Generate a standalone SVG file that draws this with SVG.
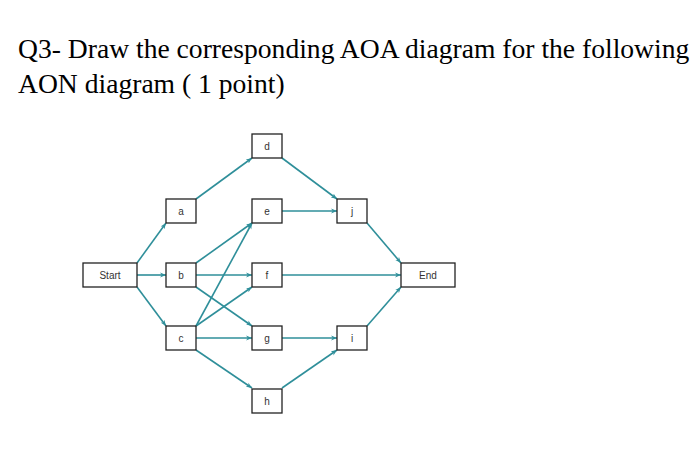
<svg xmlns="http://www.w3.org/2000/svg" width="700" height="461" viewBox="0 0 700 461">
<style>
.t{font-family:"Liberation Serif",serif;font-size:27.6px;fill:#000}
.n rect{fill:#fff;stroke:#222;stroke-width:1.3}
.n text{font-family:"Liberation Sans",sans-serif;font-size:10px;fill:#333;text-anchor:middle}
.c line{stroke:#2f8f9a;stroke-width:1.6;marker-end:url(#ah)}
</style>
<defs><marker id="ah" viewBox="0 0 10 10" refX="10" refY="5" markerWidth="6" markerHeight="6" orient="auto" markerUnits="userSpaceOnUse"><path d="M0,1 L10,5 L0,9 L3,5 Z" fill="#2f8f9a"/></marker></defs>
<rect width="700" height="461" fill="#fff"/>
<text class="t" x="18" y="58">Q3- Draw the corresponding AOA diagram for the following</text>
<text class="t" x="18" y="93">AON diagram ( 1 point)</text>
<g class="c">
<line x1="137" y1="263" x2="166" y2="223"/>
<line x1="137" y1="275" x2="166" y2="275"/>
<line x1="137" y1="287" x2="166" y2="326"/>
<line x1="196" y1="199" x2="252" y2="158"/>
<line x1="282" y1="158" x2="337" y2="199"/>
<line x1="282" y1="211" x2="337" y2="211"/>
<line x1="367" y1="223" x2="401" y2="263"/>
<line x1="196" y1="263" x2="252" y2="223"/>
<line x1="196" y1="275" x2="252" y2="275"/>
<line x1="196" y1="287" x2="252" y2="326"/>
<line x1="196" y1="326" x2="252" y2="223"/>
<line x1="196" y1="326" x2="252" y2="287"/>
<line x1="196" y1="338" x2="252" y2="338"/>
<line x1="196" y1="350" x2="252" y2="388"/>
<line x1="282" y1="275" x2="401" y2="275"/>
<line x1="282" y1="338" x2="337" y2="338"/>
<line x1="367" y1="326" x2="401" y2="287"/>
<line x1="282" y1="388" x2="337" y2="350"/>
</g>
<g id="start" class="n"><rect x="83" y="263" width="54" height="24"/><text x="110" y="279">Start</text></g>
<g id="a" class="n"><rect x="166" y="199" width="30" height="24"/><text x="181" y="215">a</text></g>
<g id="b" class="n"><rect x="166" y="263" width="30" height="24"/><text x="181" y="279">b</text></g>
<g id="c" class="n"><rect x="166" y="326" width="30" height="24"/><text x="181" y="342">c</text></g>
<g id="d" class="n"><rect x="252" y="134" width="30" height="24"/><text x="267" y="150">d</text></g>
<g id="e" class="n"><rect x="252" y="199" width="30" height="24"/><text x="267" y="215">e</text></g>
<g id="f" class="n"><rect x="252" y="263" width="30" height="24"/><text x="267" y="279">f</text></g>
<g id="g" class="n"><rect x="252" y="326" width="30" height="24"/><text x="267" y="342">g</text></g>
<g id="h" class="n"><rect x="252" y="389" width="30" height="24"/><text x="267" y="405">h</text></g>
<g id="j" class="n"><rect x="337" y="199" width="30" height="24"/><text x="352" y="215">j</text></g>
<g id="i" class="n"><rect x="337" y="326" width="30" height="24"/><text x="352" y="342">i</text></g>
<g id="end" class="n"><rect x="401" y="263" width="54" height="24"/><text x="428" y="279">End</text></g>
</svg>
